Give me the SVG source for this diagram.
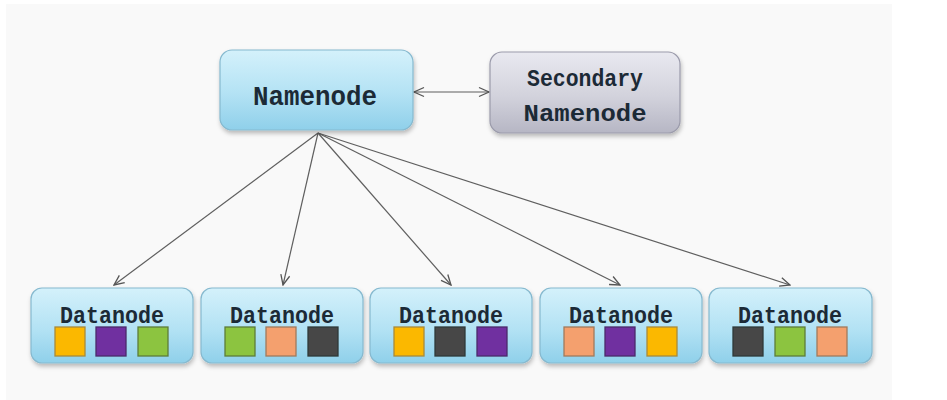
<svg xmlns="http://www.w3.org/2000/svg" width="947" height="400" viewBox="0 0 947 400">
  <defs>
    <linearGradient id="gBlue" x1="0" y1="0" x2="0" y2="1">
      <stop offset="0" stop-color="#d4f1fb"/>
      <stop offset="0.55" stop-color="#b3e2f4"/>
      <stop offset="1" stop-color="#8fd0ea"/>
    </linearGradient>
    <linearGradient id="gGray" x1="0" y1="0" x2="0" y2="1">
      <stop offset="0" stop-color="#e9e9f0"/>
      <stop offset="0.55" stop-color="#d2d2dc"/>
      <stop offset="1" stop-color="#b6b6c4"/>
    </linearGradient>
    <filter id="sh" x="-10%" y="-10%" width="120%" height="130%">
      <feDropShadow dx="1" dy="3" stdDeviation="2.2" flood-color="#000" flood-opacity="0.25"/>
    </filter>
    <marker id="arr" viewBox="0 0 12 12" refX="11" refY="6" markerWidth="12" markerHeight="12" markerUnits="userSpaceOnUse" orient="auto-start-reverse">
      <path d="M1,1.5 L11,6 L1,10.5" fill="none" stroke="#555" stroke-width="1.3"/>
    </marker>
  </defs>
  <style>
    .bg { fill: #f9f9f9; }
    .blue { fill: url(#gBlue); stroke: #86b9cf; stroke-width: 1.2; filter: url(#sh); }
    .gray { fill: url(#gGray); stroke: #9b9bab; stroke-width: 1.2; filter: url(#sh); }
    .lbl { font-family: "Liberation Mono", "DejaVu Sans Mono", monospace; font-weight: bold; fill: #1c2a36; text-anchor: middle; }
    .big { font-size: 27px; }
    .mid { font-size: 24px; }
    .dn { font-size: 24px; }
    .conn line { stroke: #5f5f5f; stroke-width: 1.2; fill: none; marker-end: url(#arr); }
    .sq { stroke-width: 1.3; }
    .or { fill: #fbb800; stroke: #a88a3a; }
    .pu { fill: #7030a0; stroke: #4a2a6a; }
    .gr { fill: #8cc440; stroke: #5c7d3a; }
    .sa { fill: #f4a06e; stroke: #a07a5c; }
    .dk { fill: #474747; stroke: #2f3a3a; }
  </style>

  <rect class="bg" x="6" y="4" width="886" height="396"/>

  <g id="connectors" class="conn">
    <line x1="414" y1="92" x2="489" y2="92" marker-start="url(#arr)"/>
    <line x1="318" y1="133" x2="114" y2="285"/>
    <line x1="318" y1="133" x2="283" y2="285"/>
    <line x1="318" y1="133" x2="451" y2="285"/>
    <line x1="318" y1="133" x2="620" y2="285"/>
    <line x1="318" y1="133" x2="790" y2="285"/>
  </g>

  <g id="namenode">
    <rect class="blue" x="220" y="50" width="193" height="80" rx="12"/>
    <text class="lbl big" x="315" y="105" textLength="124" lengthAdjust="spacingAndGlyphs">Namenode</text>
  </g>

  <g id="secondary-namenode">
    <rect class="gray" x="490" y="52" width="190" height="81" rx="12"/>
    <text class="lbl mid" x="585" y="86" textLength="116" lengthAdjust="spacingAndGlyphs">Secondary</text>
    <text class="lbl mid" x="585" y="121" textLength="123" lengthAdjust="spacingAndGlyphs">Namenode</text>
  </g>

  <g id="datanode-1">
    <rect class="blue" x="31" y="288" width="162" height="75" rx="11"/>
    <text class="lbl dn" x="112" y="323" textLength="104" lengthAdjust="spacingAndGlyphs">Datanode</text>
    <rect class="sq or" x="55" y="327" width="30" height="29"/>
    <rect class="sq pu" x="96" y="327" width="30" height="29"/>
    <rect class="sq gr" x="138" y="327" width="30" height="29"/>
  </g>

  <g id="datanode-2">
    <rect class="blue" x="201" y="288" width="162" height="75" rx="11"/>
    <text class="lbl dn" x="282" y="323" textLength="104" lengthAdjust="spacingAndGlyphs">Datanode</text>
    <rect class="sq gr" x="225" y="327" width="30" height="29"/>
    <rect class="sq sa" x="266" y="327" width="30" height="29"/>
    <rect class="sq dk" x="308" y="327" width="30" height="29"/>
  </g>

  <g id="datanode-3">
    <rect class="blue" x="370" y="288" width="162" height="75" rx="11"/>
    <text class="lbl dn" x="451" y="323" textLength="104" lengthAdjust="spacingAndGlyphs">Datanode</text>
    <rect class="sq or" x="394" y="327" width="30" height="29"/>
    <rect class="sq dk" x="435" y="327" width="30" height="29"/>
    <rect class="sq pu" x="477" y="327" width="30" height="29"/>
  </g>

  <g id="datanode-4">
    <rect class="blue" x="540" y="288" width="162" height="75" rx="11"/>
    <text class="lbl dn" x="621" y="323" textLength="104" lengthAdjust="spacingAndGlyphs">Datanode</text>
    <rect class="sq sa" x="564" y="327" width="30" height="29"/>
    <rect class="sq pu" x="605" y="327" width="30" height="29"/>
    <rect class="sq or" x="647" y="327" width="30" height="29"/>
  </g>

  <g id="datanode-5">
    <rect class="blue" x="709" y="288" width="163" height="75" rx="11"/>
    <text class="lbl dn" x="790" y="323" textLength="104" lengthAdjust="spacingAndGlyphs">Datanode</text>
    <rect class="sq dk" x="733" y="327" width="30" height="29"/>
    <rect class="sq gr" x="775" y="327" width="30" height="29"/>
    <rect class="sq sa" x="817" y="327" width="30" height="29"/>
  </g>
</svg>
